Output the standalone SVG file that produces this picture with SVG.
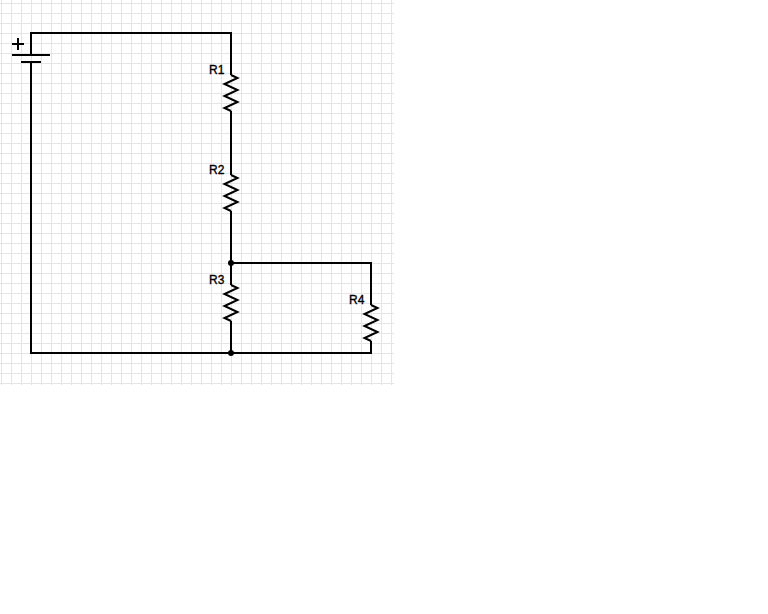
<svg xmlns="http://www.w3.org/2000/svg" width="768" height="614" viewBox="0 0 768 614">
<style>
.wire{fill:none;stroke:#000;stroke-width:2;stroke-linejoin:miter}
.dot{fill:#000}
.label{font-family:"Liberation Sans",Arial,sans-serif;font-size:12px;font-weight:normal;fill:#000;stroke:#000;stroke-width:0.35}
</style>
<defs>
<pattern id="grid" patternUnits="userSpaceOnUse" x="1" y="3" width="10" height="10">
<path d="M0.5 0V10M0 0.5H10" fill="none" stroke="#e5e5e5" stroke-width="1"/>
</pattern>
<path id="zig" d="M0 0L6.5 3L-6.5 9L6.5 15L-6.5 21L6.5 27L-6.5 33L0 36"/>
</defs>
<rect width="768" height="614" fill="#fff"/>
<rect x="0" y="0" width="394" height="385" fill="url(#grid)"/>
<g id="connectors" class="wire">
<path d="M31 55V33H231V75"/>
<path d="M231 111V175"/>
<path d="M231 211V285"/>
<path d="M231 321V353"/>
<path d="M231 263H371V305"/>
<path d="M371 341V353H31V62"/>
</g>
<g id="battery">
<path class="wire" d="M12 55H50M21 62H41"/>
<path class="wire" d="M12 44H24M18 38V50"/>
</g>
<g id="R1"><use href="#zig" x="231" y="75" class="wire"/><text class="label" x="209" y="74">R1</text></g>
<g id="R2"><use href="#zig" x="231" y="175" class="wire"/><text class="label" x="209" y="174">R2</text></g>
<g id="R3"><use href="#zig" x="231" y="285" class="wire"/><text class="label" x="209" y="284">R3</text></g>
<g id="R4"><use href="#zig" x="371" y="305" class="wire"/><text class="label" x="349" y="304">R4</text></g>
<g id="junction-1"><circle class="dot" cx="231" cy="263" r="3"/></g>
<g id="junction-2"><circle class="dot" cx="231" cy="353" r="3"/></g>
</svg>
